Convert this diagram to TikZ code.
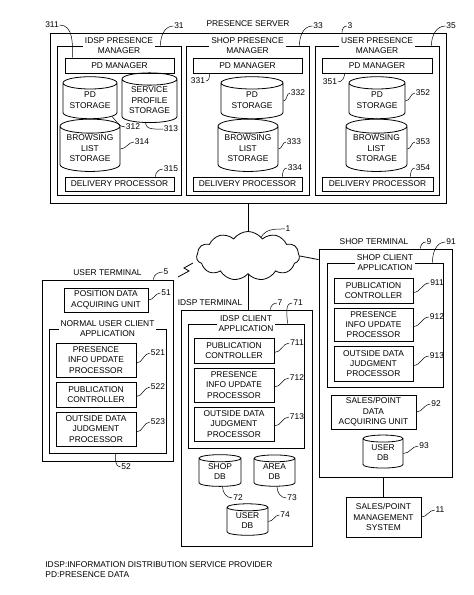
\documentclass[tikz,border=0pt]{standalone}
\usepackage{fontspec}
\setmainfont{Liberation Sans}
\usetikzlibrary{shapes.geometric,shapes.symbols}

\newcommand\cyltext[1]{\raisebox{-4.5pt}{\begin{tabular}{@{}c@{}}#1\end{tabular}}}

\tikzset{
  unit/.style={draw, align=center, inner sep=1pt},
  frame/.style={draw},
  ttl/.style={fill=white, align=center, inner xsep=2pt, inner ysep=0pt},
  store/.style={draw, cylinder, shape border rotate=90, aspect=0.3, inner sep=0pt},
  num/.style={inner sep=0.5pt},
  wh/.style 2 args={minimum width=#1pt, minimum height=#2pt},
  lead/.style={line width=0.5pt},
}

\begin{document}
\begin{tikzpicture}[x=1pt, y=1pt, line width=0.8pt, font=\fontsize{8.4pt}{10.3pt}\selectfont]
    \useasboundingbox (0,0) rectangle (474,595);

    % presence server
    \node[frame, wh={396}{170}] (srv) at (248,477) {};
    \node (srvname) at (248,571) {PRESENCE SERVER};
    \node[frame, wh={124}{149}] (m31) at (119,474.5) {};
    \node[frame, wh={123}{149}] (m33) at (247.5,474.5) {};
    \node[frame, wh={124}{149}] (m35) at (377,474.5) {};
    \node[ttl] (m31t) at (m31.north) {IDSP PRESENCE\\MANAGER};
    \node[ttl] (m33t) at (m33.north) {SHOP PRESENCE\\MANAGER};
    \node[ttl] (m35t) at (m35.north) {USER PRESENCE\\MANAGER};

    \node[unit, wh={109}{15}] (pdm31) at (119.5,529.5) {PD MANAGER};
    \node[unit, wh={109}{15}] (pdm33) at (247.5,529.5) {PD MANAGER};
    \node[unit, wh={110}{15}] (pdm35) at (377,529.5) {PD MANAGER};

    \node[store, wh={54}{42}] (pds31) at (90,494) {\cyltext{PD\\STORAGE}};
    \node[store, wh={55}{42}] (sps31) at (149.5,494) {\cyltext{SERVICE\\PROFILE\\STORAGE}};
    \node[store, wh={60}{44}] (bls31) at (90,446) {\cyltext{BROWSING\\LIST\\STORAGE}};
    \node[store, wh={62}{42}] (pds33) at (252,494) {\cyltext{PD\\STORAGE}};
    \node[store, wh={60}{44}] (bls33) at (248,446) {\cyltext{BROWSING\\LIST\\STORAGE}};
    \node[store, wh={56}{42}] (pds35) at (377,494) {\cyltext{PD\\STORAGE}};
    \node[store, wh={61}{44}] (bls35) at (376.5,446) {\cyltext{BROWSING\\LIST\\STORAGE}};

    \node[unit, wh={109}{14}] (dp31) at (119.5,411) {DELIVERY PROCESSOR};
    \node[unit, wh={109}{14}] (dp33) at (247.5,411) {DELIVERY PROCESSOR};
    \node[unit, wh={111}{14}] (dp35) at (377.5,411) {DELIVERY PROCESSOR};

    \node[num] (n311) at (52,570) {311};
    \node[num] (n31) at (179,569) {31};
    \node[num] (n33) at (318,569) {33};
    \node[num] (n3) at (350,569) {3};
    \node[num] (n35) at (451,569) {35};
    \node[num] (n331) at (198,514) {331};
    \node[num] (n312) at (133,468) {312};
    \node[num] (n313) at (171,466) {313};
    \node[num] (n314) at (142,453) {314};
    \node[num] (n315) at (171,426) {315};
    \node[num] (n332) at (298,502) {332};
    \node[num] (n333) at (294,453) {333};
    \node[num] (n334) at (295,427) {334};
    \node[num] (n351) at (330,513) {351};
    \node[num] (n352) at (423,502) {352};
    \node[num] (n353) at (423,453) {353};
    \node[num] (n354) at (423,427) {354};

    \draw[lead] (n311.east) to[out=0,in=90] ([xshift=8pt]pdm31.north west);
    \draw[lead] ([xshift=-21pt]m31.north east) to[out=90,in=180] (n31.west);
    \draw[lead] ([xshift=-10pt]m33.north east) to[out=90,in=180] (n33.west);
    \draw[lead] ([xshift=94pt]srv.north) to[out=90,in=180] (n3.west);
    \draw[lead] ([xshift=-8pt]m35.north east) to[out=90,in=180] (n35.west);
    \draw[lead] ([xshift=17pt]pdm33.south west) to[out=-90,in=0] (n331.east);
    \draw[lead] ([xshift=23pt]pdm35.south west) to[out=-90,in=0] (n351.east);
    \draw[lead] (pds31.-35) to[out=-45,in=180] (n312.west);
    \draw[lead] (sps31.-100) to[out=-90,in=180] (n313.west);
    \draw[lead] (bls31.east) to[out=0,in=180] (n314.west);
    \draw[lead] ([xshift=-19pt]dp31.north east) to[out=90,in=180] (n315.west);
    \draw[lead] (pds33.east) to[out=0,in=180] (n332.west);
    \draw[lead] (bls33.east) to[out=0,in=180] (n333.west);
    \draw[lead] ([xshift=-20pt]dp33.north east) to[out=90,in=180] (n334.west);
    \draw[lead] (pds35.east) to[out=0,in=180] (n352.west);
    \draw[lead] (bls35.east) to[out=0,in=180] (n353.west);
    \draw[lead] ([xshift=-23pt]dp35.north east) to[out=90,in=180] (n354.west);

    % network
    \node[draw, cloud, cloud puffs=11, cloud puff arc=110, aspect=2.1,
          wh={103}{49}, inner sep=0pt] (net) at (248,339) {};
    \node[num] (n1) at (288,366) {1};
    \draw[lead] (net.55) to[out=60,in=180] (n1.west);

    % user terminal
    \node[frame, wh={131}{181}] (t5) at (107.5,224.5) {};
    \node (t5name) at (107.5,322) {USER TERMINAL};
    \node[num] (n5) at (166,323) {5};
    \draw[lead] ([xshift=-20pt]t5.north east) to[out=90,in=180] (n5.west);
    \node[unit, wh={84}{24}] (pda51) at (106,295) {POSITION DATA\\ACQUIRING UNIT};
    \node[num] (n51) at (166,302) {51};
    \draw[lead] (pda51.east) to[out=0,in=180] (n51.west);
    \node[frame, wh={117}{124}] (a52) at (107.5,204) {};
    \node[ttl] (a52t) at (a52.north) {NORMAL USER CLIENT\\APPLICATION};
    \node[num] (n52) at (126,128) {52};
    \draw[lead] ([xshift=8pt]a52.south) to[out=-90,in=180] (n52.west);
    \node[unit, wh={80}{34}] (p521) at (96,235) {PRESENCE\\INFO UPDATE\\PROCESSOR};
    \node[unit, wh={80}{25}] (p522) at (96,200.5) {PUBLICATION\\CONTROLLER};
    \node[unit, wh={80}{34}] (p523) at (96,166) {OUTSIDE DATA\\JUDGMENT\\PROCESSOR};
    \node[num] (n521) at (158,242) {521};
    \node[num] (n522) at (158,208) {522};
    \node[num] (n523) at (158,173) {523};
    \draw[lead] ([yshift=-3pt]p521.east) to[out=0,in=180] (n521.west);
    \draw[lead] ([yshift=-2pt]p522.east) to[out=0,in=180] (n522.west);
    \draw[lead] ([yshift=-3pt]p523.east) to[out=0,in=180] (n523.west);

    % idsp terminal
    \node[frame, wh={131}{236}] (t7) at (246.5,167) {};
    \node (t7name) at (210,292) {IDSP TERMINAL};
    \node[num] (n7) at (280,292) {7};
    \node[num] (n71) at (298,292) {71};
    \draw[lead] ([xshift=-42pt]t7.north east) to[out=90,in=180] (n7.west);
    \node[frame, wh={116}{124}] (a71) at (246,209) {};
    \node[ttl] (a71t) at (a71.north) {IDSP CLIENT\\APPLICATION};
    \draw[lead] ([xshift=-17pt]a71.north east) to[out=90,in=180] (n71.west);
    \node[unit, wh={80}{25}] (p711) at (234,244.5) {PUBLICATION\\CONTROLLER};
    \node[unit, wh={80}{34}] (p712) at (234,210) {PRESENCE\\INFO UPDATE\\PROCESSOR};
    \node[unit, wh={80}{34}] (p713) at (234,171) {OUTSIDE DATA\\JUDGMENT\\PROCESSOR};
    \node[num] (n711) at (297,252) {711};
    \node[num] (n712) at (297,217) {712};
    \node[num] (n713) at (297,178) {713};
    \draw[lead] ([yshift=-2pt]p711.east) to[out=0,in=180] (n711.west);
    \draw[lead] ([yshift=-2pt]p712.east) to[out=0,in=180] (n712.west);
    \draw[lead] ([yshift=-2pt]p713.east) to[out=0,in=180] (n713.west);
    \node[store, wh={42}{31}] (db72) at (220,122.5) {\cyltext{SHOP\\DB}};
    \node[store, wh={41}{31}] (db73) at (274.5,122.5) {\cyltext{AREA\\DB}};
    \node[store, wh={41}{29}] (db74) at (247.5,73.5) {\cyltext{USER\\DB}};
    \node[num] (n72) at (238,97) {72};
    \node[num] (n73) at (292,97) {73};
    \node[num] (n74) at (285,80) {74};
    \draw[lead] (db72.-80) to[out=-90,in=180] (n72.west);
    \draw[lead] (db73.-80) to[out=-90,in=180] (n73.west);
    \draw[lead] (db74.east) to[out=0,in=180] (n74.west);

    % shop terminal
    \node[frame, wh={133}{228}] (t9) at (385.5,232) {};
    \node (t9name) at (374,353) {SHOP TERMINAL};
    \node[num] (n9) at (429,353) {9};
    \node[num] (n91) at (451,353) {91};
    \draw[lead] ([xshift=-32pt]t9.north east) to[out=90,in=180] (n9.west);
    \node[frame, wh={116}{124}] (a91) at (385,270) {};
    \node[ttl] (a91t) at (a91.north) {SHOP CLIENT\\APPLICATION};
    \draw[lead] ([xshift=-11pt]a91.north east) to[out=90,in=180] (n91.west);
    \node[unit, wh={79}{25}] (p911) at (373.5,304.5) {PUBLICATION\\CONTROLLER};
    \node[unit, wh={79}{33}] (p912) at (373.5,270.5) {PRESENCE\\INFO UPDATE\\PROCESSOR};
    \node[unit, wh={79}{35}] (p913) at (373.5,231.5) {OUTSIDE DATA\\JUDGMENT\\PROCESSOR};
    \node[num] (n911) at (437,312) {911};
    \node[num] (n912) at (437,278) {912};
    \node[num] (n913) at (437,239) {913};
    \draw[lead] ([yshift=-2pt]p911.east) to[out=0,in=180] (n911.west);
    \draw[lead] ([yshift=-2pt]p912.east) to[out=0,in=180] (n912.west);
    \draw[lead] ([yshift=-2pt]p913.east) to[out=0,in=180] (n913.west);
    \node[unit, wh={85}{34}] (sp92) at (373.5,183) {SALES/POINT\\DATA\\ACQUIRING UNIT};
    \node[num] (n92) at (436,191) {92};
    \draw[lead] (sp92.east) to[out=0,in=180] (n92.west);
    \node[store, wh={40}{33}] (db93) at (383,141.5) {\cyltext{USER\\DB}};
    \node[num] (n93) at (424,149) {93};
    \draw[lead] (db93.east) to[out=0,in=180] (n93.west);
    \node[unit, wh={75}{40}] (sm11) at (383.5,78) {SALES/POINT\\MANAGEMENT\\SYSTEM};
    \node[num] (n11) at (440,85) {11};
    \draw[lead] (sm11.east) to[out=0,in=180] (n11.west);

    % connections
    \draw (srv.south) -- (net.north);
    \draw (net.south) -- (net.south |- t7.north);
    \draw (net.east) -- ([yshift=-11pt]t9.north west);
    \draw (sm11.north) -- (sm11.north |- t9.south);
    \draw (178,318) -- (189,324) -- (184,327) -- (193,332);

    \node[anchor=north west, align=left, inner sep=0pt] (notes) at (45,34)
        {IDSP:INFORMATION DISTRIBUTION SERVICE PROVIDER\\PD:PRESENCE DATA};
\end{tikzpicture}
\end{document}
